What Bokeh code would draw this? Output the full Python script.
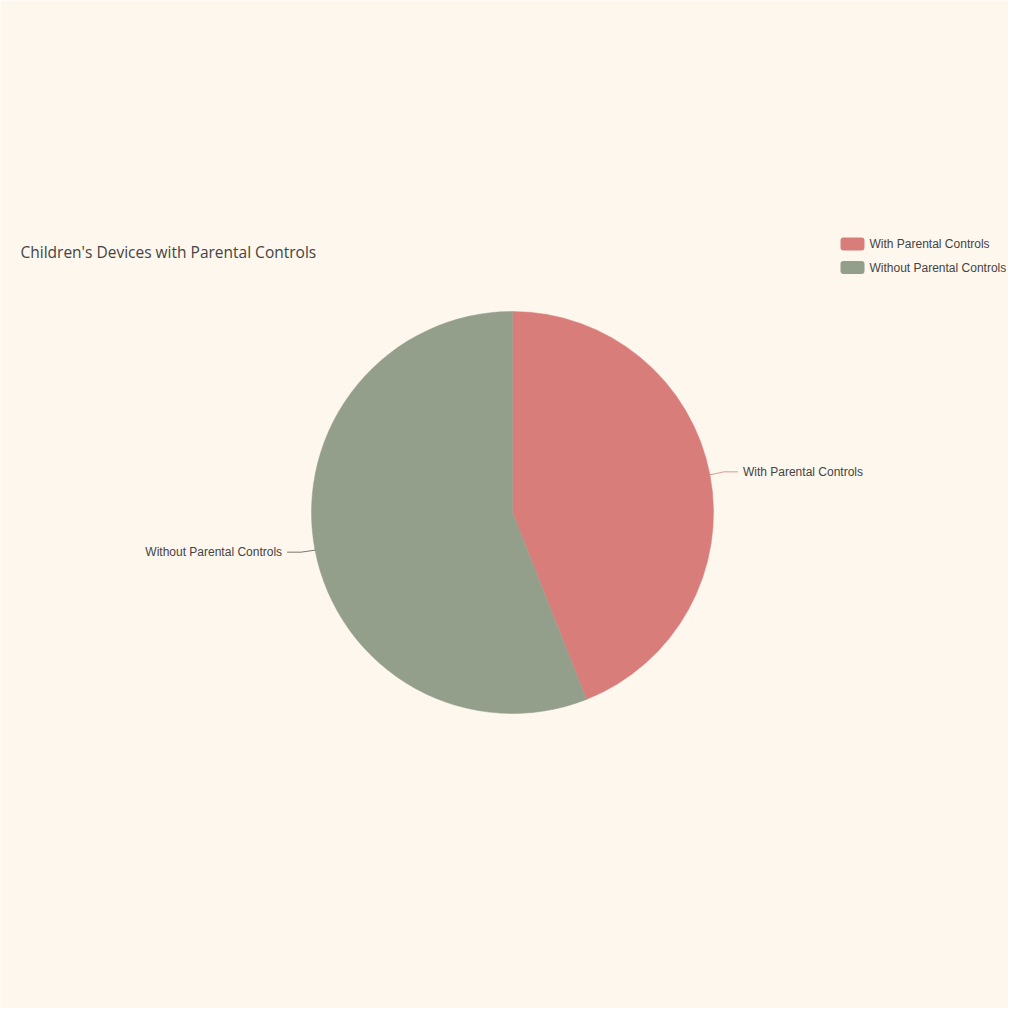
import math
from bokeh.plotting import figure
from bokeh.models import Range1d, ColumnDataSource, BoxAnnotation
from bokeh.core.properties import value
from bokeh.embed import file_html
from bokeh.resources import INLINE

# ---- data ----
title_text = "Children's Devices with Parental Controls"
categories = ["With Parental Controls", "Without Parental Controls"]
values = [44, 56]
colors = ["#d97d7a", "#939e8b"]

BG = "#fdf7ed"
TXT = "#444444"

W = H = 1008
p = figure(width=W, height=H, output_backend="svg", toolbar_location=None,
           x_range=Range1d(0, 1008), y_range=Range1d(16, 1024),
           min_border=0, background_fill_color=BG, border_fill_color=BG,
           outline_line_color=None)
p.axis.visible = False
p.grid.visible = False

# screen coords helper: data y = 1024 - screen y
def sy(y):
    return 1024 - y

cx, cy, r = 512, sy(512), 201
total = sum(values)
starts, ends, mids = [], [], []
a = math.pi / 2
for v in values:
    span = v / total * 2 * math.pi
    starts.append(a)
    ends.append(a - span)
    mids.append(a - span / 2)
    a -= span

src = ColumnDataSource(dict(start=starts, end=ends, color=colors, cat=categories))
p.wedge(x=cx, y=cy, radius=r, start_angle="start", end_angle="end",
        direction="clock", fill_color="color", line_color="color", line_width=0.5,
        source=src)

# leader lines + labels
for cat, m, col in zip(categories, mids, colors):
    ex = cx + r * math.cos(m)
    ey = cy + r * math.sin(m)
    right = math.cos(m) >= 0
    sgn = 1 if right else -1
    bx = ex + sgn * 14
    by = ey + (3 if right else -2)
    tx = bx + sgn * 14
    p.line([ex, bx, tx], [ey, by, by], line_color=col if right else "#555555",
           line_width=0.8)
    p.text(x=[tx + sgn * 5], y=[by], text=[cat], text_font=value("Liberation Sans"),
           text_font_size="12px", text_color=TXT,
           text_align="left" if right else "right", text_baseline="middle")

# title
p.text(x=[20], y=[sy(251)], text=[title_text], text_font=value("Open Sans"),
       text_font_size="15.5px", text_color=TXT, text_align="left",
       text_baseline="middle")

# legend (shifted slightly left so it fits inside the 1008px canvas)
lx = 840
for i, (cat, col) in enumerate(zip(categories, colors)):
    yc = 243.5 + i * 23.5
    p.add_layout(BoxAnnotation(left=lx, right=lx + 24, top=sy(yc - 6.5), bottom=sy(yc + 6.5),
                               fill_color=col, fill_alpha=1, line_color=None,
                               border_radius=3))
    p.text(x=[lx + 29], y=[sy(yc)], text=[cat], text_font=value("Liberation Sans"),
           text_font_size="12px", text_color=TXT, text_align="left",
           text_baseline="middle")

open("out.html", "w").write(file_html(p, INLINE))
